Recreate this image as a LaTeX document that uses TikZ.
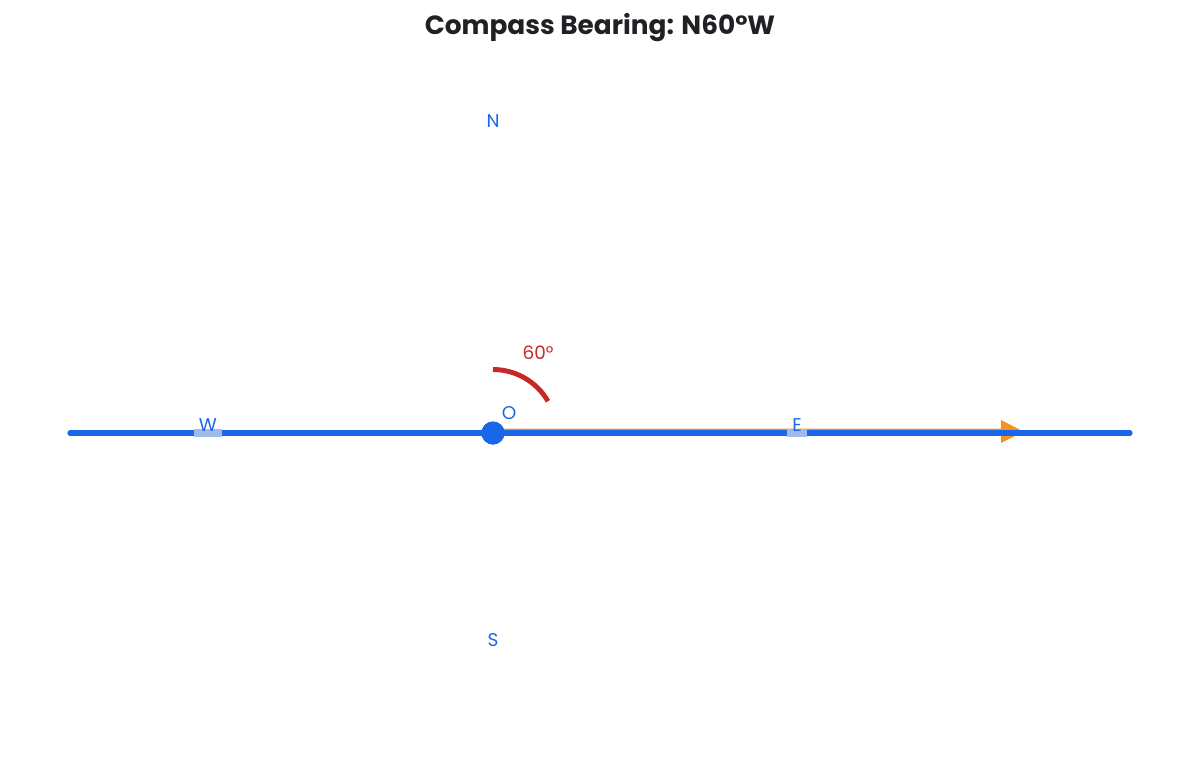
\documentclass[tikz,border=0pt]{standalone}
\usepackage{fontspec}
\setmainfont{Poppins}
\usetikzlibrary{arrows.meta}
\definecolor{compassblue}{RGB}{26,102,232}
\definecolor{tickblue}{RGB}{160,186,236}
\definecolor{bearorange}{RGB}{246,146,30}
\definecolor{anglered}{RGB}{198,40,40}
\definecolor{titlegray}{RGB}{32,33,36}
\begin{document}
\begin{tikzpicture}
		    [%%%%%%%%%%%%%%%%%%%%%%%%%%%%%%
		        x=0.02cm, y=-0.02cm,
		        lbl/.style={text=compassblue, font=\fontsize{10.5}{12}\selectfont, inner sep=0pt},
		        axis/.style={draw=compassblue, line width=3pt, line cap=round},
		        tick/.style={draw=tickblue, line width=4pt},
		        bearing/.style={draw=bearorange, line width=3.4pt, -{Triangle[length=13pt,width=12pt]}},
		        dot/.style={circle, fill=compassblue, minimum size=0.46cm, inner sep=0pt},
		    ]%%%%%%%%%%%%%%%%%%%%%%%%%%%%%%
		\useasboundingbox (0,0) rectangle (1200,762);
		\node[font=\bfseries\fontsize{15}{18}\selectfont, text=titlegray] (title) at (600,28) {Compass Bearing: N60°W};

		\coordinate (westend) at (70,433);
		\coordinate (eastend) at (1130,433);
		\coordinate (tip) at (1024,431.5);
		\node[dot] (O) at (493,433) {};

		\draw[bearing] ([yshift=0.03cm]O.center) -- (tip);
		\draw[axis] (westend) -- (eastend);
		\draw[tick] (194,433) -- (222,433);
		\draw[tick] (787,433) -- (807,433);
		\node[dot] at (O.center) {};

		\draw[draw=anglered, line width=2.8pt] ([yshift=1.27cm]O.center) arc[start angle=90, end angle=30, radius=1.27cm];

		\node[lbl] (N) at (493,121) {N};
		\node[lbl] (S) at (493,640) {S};
		\node[lbl] (W) at (208,425) {W};
		\node[lbl] (E) at (797,425) {E};
		\node[lbl] (Olbl) at (509,413) {O};
		\node[lbl, text=anglered] (angle) at (538,353) {60°};
		\end{tikzpicture}
\end{document}
